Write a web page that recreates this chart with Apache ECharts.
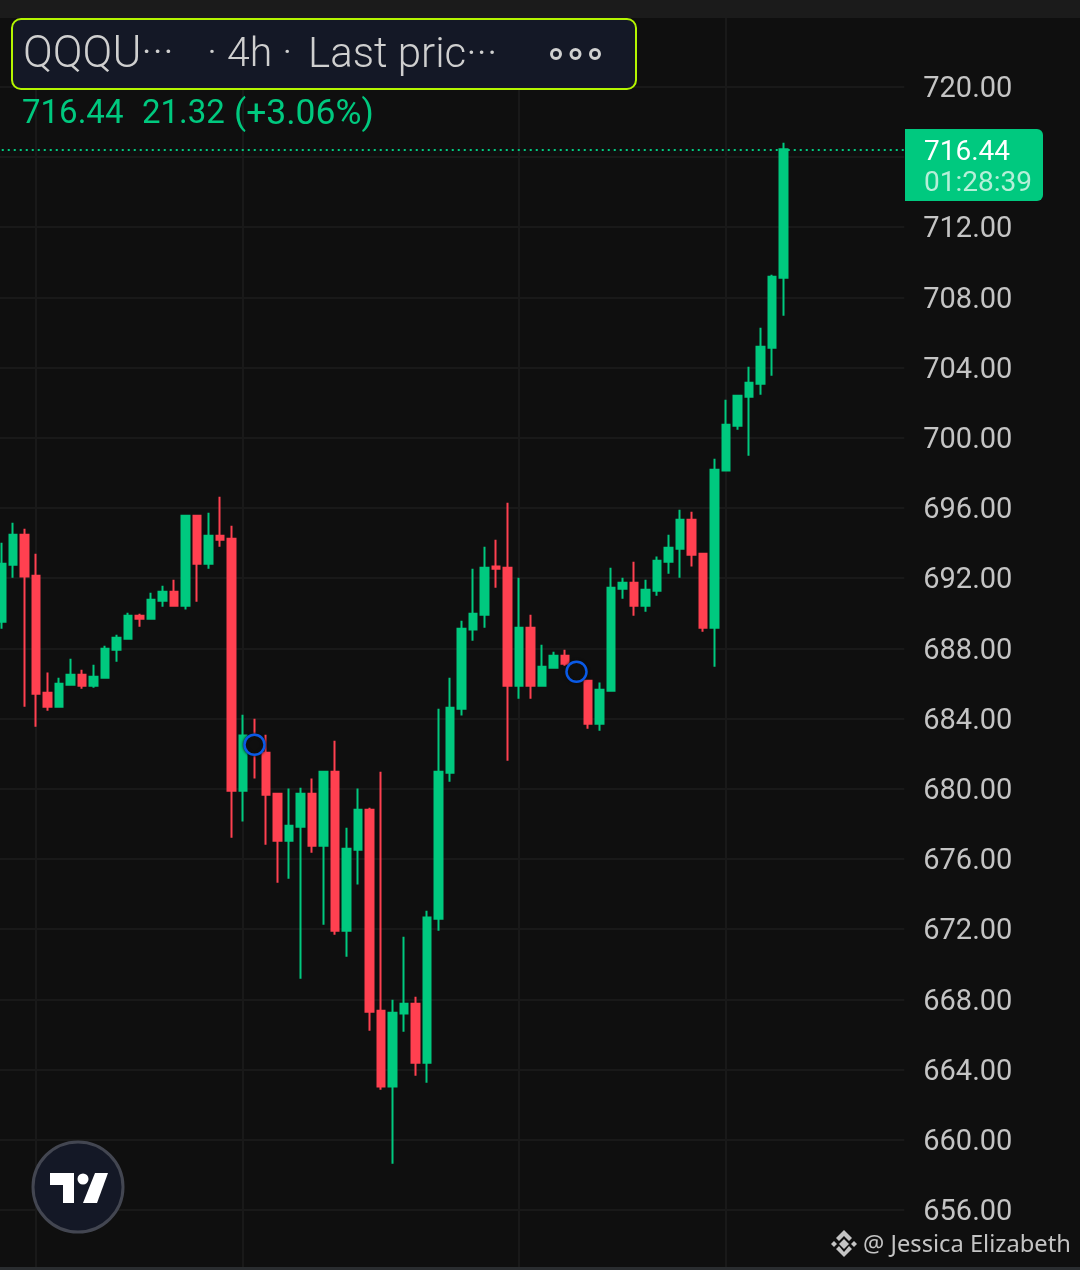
<!DOCTYPE html>
<html>
<head>
<meta charset="utf-8">
<style>html,body{margin:0;padding:0;background:#0f0f0f}#c{width:1080px;height:1270px}</style>
<script src="https://cdn.jsdelivr.net/npm/echarts@6/dist/echarts.min.js"></script>
</head>
<body>
<div id="c"></div>
<script>
const opens = [689.52,692.77,694.48,692.14,685.48,684.68,685.93,686.50,685.87,686.33,687.93,688.55,689.86,689.69,690.72,691.23,690.43,695.56,692.83,694.42,694.25,679.89,682.91,682.06,679.72,677.04,677.84,679.72,676.76,680.97,671.91,676.53,678.81,667.36,663.03,667.19,667.75,664.39,672.60,680.92,684.56,689.07,689.92,692.66,692.60,685.87,689.18,685.87,686.90,687.58,686.96,686.16,683.71,685.59,691.40,691.74,690.43,691.29,692.94,693.68,695.33,693.40,689.18,698.13,700.69,702.34,703.08,705.13,709.12];
const closes = [692.83,694.48,692.09,685.42,684.68,685.99,686.50,685.87,686.39,687.98,688.61,689.86,689.69,690.77,691.23,690.43,695.56,692.83,694.42,694.19,679.89,683.03,682.11,679.66,677.04,677.90,679.72,676.76,680.97,671.91,676.59,678.81,667.30,663.03,667.24,667.75,664.39,672.66,680.97,684.62,689.12,689.98,692.60,692.54,685.87,689.18,685.87,686.96,687.58,687.13,686.33,683.71,685.65,691.46,691.74,690.43,691.34,693.00,693.74,695.33,693.34,689.18,698.18,700.75,702.40,703.14,705.19,709.18,716.44];
const lows = [689.12,692.03,684.68,683.54,684.45,684.68,685.93,685.70,685.76,686.33,687.24,688.55,689.24,689.69,690.38,690.43,690.21,690.66,692.54,693.79,677.21,678.13,680.58,676.81,674.65,674.88,669.18,676.36,672.26,671.69,670.43,674.54,666.22,662.85,658.64,666.16,663.65,663.25,671.91,680.40,684.17,688.44,689.18,691.46,681.60,685.13,685.13,685.87,686.90,687.01,686.22,683.42,683.31,685.59,690.83,689.86,690.09,691.00,692.26,692.03,692.66,688.95,686.96,698.13,700.46,698.98,702.46,703.54,706.96];
const highs = [694.02,695.16,694.82,693.40,686.62,686.33,687.41,686.79,687.07,688.15,688.78,690.03,689.98,691.17,691.57,691.91,695.62,695.62,695.73,696.64,694.99,684.22,683.99,683.08,679.72,680.01,680.06,680.58,680.97,682.74,677.78,680.01,678.92,680.97,667.98,671.57,668.15,673.05,684.56,686.33,689.58,692.54,693.79,694.19,696.30,692.03,689.92,688.21,687.81,687.93,687.01,686.22,686.05,692.60,692.03,692.94,691.91,693.23,694.48,695.90,695.79,693.45,698.81,702.17,702.40,704.05,706.27,709.29,716.81];
const futureSlots = 10;
const categories = opens.map((_, i) => 'bar ' + i).concat(Array.from({length: futureSlots}, (_, i) => 'next ' + i));
const timeGridBars = [3, 21, 45, 63];
const alertBars = ['bar 22', 'bar 50'];
const alertPrices = [682.51, 686.67];
const tickLabels = [720, 712, 708, 704, 700, 696, 692, 688, 684, 680, 676, 672, 668, 664, 660, 656];
const lastPrice = 716.44;

const BG = '#0f0f0f', GREEN = '#00c97f', RED = '#ff4050', GRID = '#191919', TXT = '#c4c4c4';
const F = 'Roboto, sans-serif';
const chart = echarts.init(document.getElementById('c'), null, {renderer: 'canvas'});
chart.setOption({
  animation: false,
  backgroundColor: BG,
  grid: {left: -4.25, top: 16.6, width: 908.5, height: 1263.6, outerBoundsMode: 'none'},
  xAxis: {
    type: 'category', data: categories, boundaryGap: true,
    axisLine: {show: false}, axisTick: {show: false}, axisLabel: {show: false},
    splitLine: {show: true, alignWithLabel: true, interval: (i) => timeGridBars.includes(i), lineStyle: {color: GRID, width: 2}}
  },
  yAxis: {
    type: 'value', position: 'right', min: 652, max: 724, interval: 4, scale: true,
    axisLine: {show: false}, axisTick: {show: false},
    splitLine: {show: true, lineStyle: {color: GRID, width: 2}},
    axisLabel: {
      margin: 19, color: TXT,
      formatter: (v) => tickLabels.includes(v) ? '{t|' + v.toFixed(2) + '}' : '',
      rich: {t: {color: TXT, fontFamily: F, fontSize: 29, padding: [6, 0, 0, 0]}}
    }
  },
  series: [
    {
      type: 'candlestick', barWidth: 8,
      data: opens.map((o, i) => [o, closes[i], lows[i], highs[i]]),
      itemStyle: {color: GREEN, color0: RED, borderColor: GREEN, borderColor0: RED, borderWidth: 2},
      markLine: {
        silent: true, symbol: 'none', animation: false, label: {show: false},
        lineStyle: {color: GREEN, type: [2, 4], width: 2},
        data: [{yAxis: lastPrice}]
      }
    },
    {
      type: 'scatter', symbol: 'circle', symbolSize: 20, z: 5,
      data: alertBars.map((b, i) => [b, alertPrices[i]]),
      itemStyle: {color: BG, borderColor: '#0a5ae6', borderWidth: 2.5, opacity: 1, shadowColor: BG, shadowBlur: 3}
    }
  ],
  graphic: {elements: [
    {type: 'rect', shape: {x: 0, y: 0, width: 1080, height: 18}, style: {fill: '#1b1b1b'}, z: 100},
    {type: 'rect', shape: {x: 0, y: 1267, width: 1080, height: 3}, style: {fill: '#2a2d30'}, z: 100},
    {type: 'rect', shape: {x: 12, y: 19, width: 624, height: 70, r: 9}, style: {fill: '#141826', stroke: '#b4f500', lineWidth: 2}, z: 100},
    {type: 'text', x: 23, y: 56, style: {text: 'QQQU···', fill: '#cfcfcf', font: '300 44px ' + F, textVerticalAlign: 'middle'}, z: 101},
    {type: 'text', x: 207, y: 56, style: {text: '· 4h ·', fill: '#cfcfcf', font: '300 41px ' + F, textVerticalAlign: 'middle'}, z: 101},
    {type: 'text', x: 308, y: 56, style: {text: 'Last pric···', fill: '#cfcfcf', font: '300 42px ' + F, textVerticalAlign: 'middle'}, z: 101},
    {type: 'circle', shape: {cx: 556, cy: 54, r: 4.5}, style: {fill: 'none', stroke: '#d0d0d0', lineWidth: 3}, z: 101},
    {type: 'circle', shape: {cx: 575.5, cy: 54, r: 4.5}, style: {fill: 'none', stroke: '#d0d0d0', lineWidth: 3}, z: 101},
    {type: 'circle', shape: {cx: 595, cy: 54, r: 4.5}, style: {fill: 'none', stroke: '#d0d0d0', lineWidth: 3}, z: 101},
    {type: 'text', x: 22, y: 115, style: {text: '716.44', fill: GREEN, font: '33px ' + F, textVerticalAlign: 'middle'}, z: 101},
    {type: 'text', x: 142, y: 115, style: {text: '21.32', fill: GREEN, font: '33px ' + F, textVerticalAlign: 'middle'}, z: 101},
    {type: 'text', x: 234, y: 115, style: {text: '(+3.06%)', fill: GREEN, font: '35.5px ' + F, textVerticalAlign: 'middle'}, z: 101},
    {type: 'rect', shape: {x: 905, y: 129, width: 138, height: 72, r: [0, 6, 6, 0]}, style: {fill: GREEN}, z: 100},
    {type: 'text', x: 924, y: 153, style: {text: '716.44', fill: '#ffffff', font: '28px ' + F, textVerticalAlign: 'middle'}, z: 101},
    {type: 'text', x: 924, y: 184, style: {text: '01:28:39', fill: '#b5efd8', font: '28px ' + F, textVerticalAlign: 'middle'}, z: 101},
    {type: 'circle', shape: {cx: 78, cy: 1187, r: 45}, style: {fill: '#141826', stroke: '#434651', lineWidth: 3}, z: 100},
    {type: 'polygon', shape: {points: [[50, 1173], [74, 1173], [74, 1203], [63, 1203], [63, 1185], [50, 1185]]}, style: {fill: '#fff'}, z: 101},
    {type: 'circle', shape: {cx: 83, cy: 1179, r: 5.5}, style: {fill: '#fff'}, z: 101},
    {type: 'polygon', shape: {points: [[95, 1173], [108, 1173], [97, 1203], [83, 1203]]}, style: {fill: '#fff'}, z: 101},
    {type: 'polygon', shape: {points: [[844, 1239], [849, 1244], [844, 1249], [839, 1244]]}, style: {fill: TXT}, z: 101},
    {type: 'polygon', shape: {points: [[834, 1241], [837, 1244], [834, 1247], [831, 1244]]}, style: {fill: TXT}, z: 101},
    {type: 'polygon', shape: {points: [[854, 1241], [857, 1244], [854, 1247], [851, 1244]]}, style: {fill: TXT}, z: 101},
    {type: 'polygon', shape: {points: [[844, 1230], [852, 1238], [849, 1241], [844, 1236], [839, 1241], [836, 1238]]}, style: {fill: TXT}, z: 101},
    {type: 'polygon', shape: {points: [[844, 1257], [852, 1249], [849, 1246], [844, 1252], [839, 1246], [836, 1249]]}, style: {fill: TXT}, z: 101},
    {type: 'text', x: 863, y: 1245, style: {text: '@ Jessica Elizabeth', fill: TXT, font: '23.7px "Noto Sans", sans-serif', textVerticalAlign: 'middle'}, z: 101}
  ]}
});
</script>
</body>
</html>
